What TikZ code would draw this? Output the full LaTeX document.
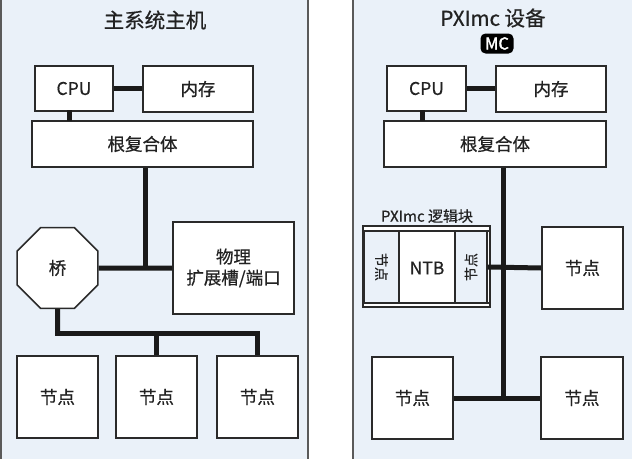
\documentclass[tikz,border=0pt]{standalone}
\usepackage{fontspec}
\setmainfont{Noto Sans CJK SC}[FakeBold=0.6]
\newfontfamily\badgefont{Noto Sans CJK SC}[FakeBold=1.8]
\usetikzlibrary{shapes.geometric}
\definecolor{panelfill}{HTML}{EAF1F9}
\definecolor{panelline}{HTML}{5A5A5A}
\definecolor{boxline}{HTML}{2A2A2A}
\definecolor{busline}{HTML}{1A1A1A}
\definecolor{txt}{HTML}{222222}
\tikzset{
  panel/.style={draw=panelline, line width=1.3pt, fill=panelfill},
  box/.style={draw=boxline, line width=1.6pt, fill=white, inner sep=0pt, text=txt, font=\fontsize{17.5}{21}\selectfont, align=center},
  innerbox/.style={draw=boxline, line width=1.3pt, fill=panelfill, inner sep=0pt, text=txt, font=\fontsize{14}{15}\selectfont},
  bus/.style={draw=busline, line width=5pt},
  title/.style={font=\fontsize{20.5}{23}\selectfont, inner sep=0pt, text=txt},
  plain/.style={font=\fontsize{17.5}{19}\selectfont, inner sep=0pt, text=txt},
}
\begin{document}
\begin{tikzpicture}[x={(1pt,0)}, y={(0,-1pt)}]
\useasboundingbox (0,0) rectangle (632,458);
\clip (0,0) rectangle (632,458);
% panels
\draw[panel] (1,-10) rectangle (308,470);
\draw[panel] (353,-10) rectangle (645,470);

% ---------- left panel ----------
\node[title] (tl) at (155,20) {主系统主机};
\node[box, minimum width=78pt, minimum height=45pt] (cpuL) at (74,88.5) {CPU};
\node[box, minimum width=110pt, minimum height=46pt] (memL) at (198,89) {内存};
\node[box, minimum width=221pt, minimum height=46pt] (rootL) at (142.5,144) {根复合体};
\node[box, regular polygon, regular polygon sides=8, minimum size=87.5pt] (bridge) at (57.5,268) {桥};
\node[box, minimum width=121pt, minimum height=92pt] (phys) at (233.5,268) {物理\\扩展槽/端口};
\node[box, minimum width=81pt, minimum height=82pt] (n1) at (57.5,397) {节点};
\node[box, minimum width=81pt, minimum height=82pt] (n2) at (156.5,397) {节点};
\node[box, minimum width=81pt, minimum height=82pt] (n3) at (257.5,397) {节点};
\coordinate (jL) at (145,268);
\coordinate (busL) at (57.5,333);

\draw[bus] (cpuL.east) -- (memL.west |- cpuL.east);
\draw[bus] (69,110) -- (69,121);
\draw[bus] (jL |- rootL.south) -- (jL);
\draw[bus] (bridge.east) -- (phys.west);
\draw[bus] (bridge.south) -- (busL);
\draw[bus, line cap=rect] (busL) -- (n3.north |- busL);
\draw[bus] (n2.north |- busL) -- (n2.north);
\draw[bus] (n3.north |- busL) -- (n3.north);

% ---------- right panel ----------
\node[title] (tr) at (493,18) {PXImc 设备};
\node[fill=black, rounded corners=5pt, minimum width=33pt, minimum height=20pt, inner sep=0pt, text=white, font=\badgefont\fontsize{16.5}{17}\selectfont] (mc) at (497,43.5) {MC};
\node[box, minimum width=79pt, minimum height=45pt] (cpuR) at (426.5,88.5) {CPU};
\node[box, minimum width=110pt, minimum height=46pt] (memR) at (551,89) {内存};
\node[box, minimum width=222pt, minimum height=46pt] (rootR) at (495,144) {根复合体};
\node[plain, font=\fontsize{15}{16}\selectfont] (lbl) at (427,216) {PXImc 逻辑块};
\node[draw=boxline, line width=1.3pt, fill=white, minimum width=127pt, minimum height=81pt, inner sep=0pt] (blk) at (426.5,266.5) {};
\draw[draw=boxline, line width=1.1pt] (363,231) -- (490,231);
\draw[draw=boxline, line width=1.1pt] (363,303) -- (490,303);
\node[innerbox, rotate=-90, minimum width=72pt, minimum height=35pt] (ntbL) at (381.5,267) {节点};
\node[innerbox, rotate=90, minimum width=72pt, minimum height=32pt] (ntbR) at (471,267) {节点};
\node[plain] (ntb) at (427,268) {NTB};
\node[box, minimum width=81pt, minimum height=82pt] (nm) at (582.5,268) {节点};
\node[box, minimum width=81pt, minimum height=82pt] (na) at (412.5,398) {节点};
\node[box, minimum width=82pt, minimum height=82pt] (nb) at (582,398) {节点};
\coordinate (jR) at (503,398);

\draw[bus] (cpuR.east) -- (memR.west |- cpuR.east);
\draw[bus] (422,110) -- (422,121);
\draw[bus] (jR |- rootR.south) -- (jR);
\draw[bus] (ntbR.south) -- (nm.west);
\draw[bus] (na.east) -- (nb.west);
\end{tikzpicture}
\end{document}
